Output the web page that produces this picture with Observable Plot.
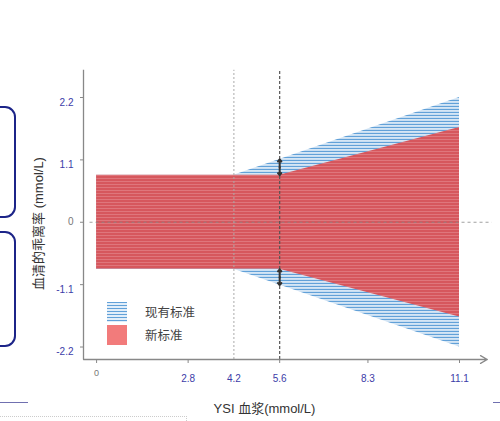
<!DOCTYPE html>
<html><head><meta charset="utf-8">
<script src="https://cdn.jsdelivr.net/npm/d3@7"></script>
<script src="https://cdn.jsdelivr.net/npm/@observablehq/plot@0.6"></script>
<style>
body{margin:0;background:#fff;font-family:"Liberation Sans","Noto Sans CJK SC",sans-serif;}
#wrap{position:relative;width:500px;height:421px;overflow:hidden;background:#fff}
#wrap svg{position:absolute;left:0;top:0}
.br{position:absolute;border:2.5px solid #1c2488;border-radius:11px;box-sizing:border-box}
.leg{position:absolute;left:107px;width:20px;height:20px}
.legt{position:absolute;left:145px;font-size:12.5px;color:#444;line-height:14px}
.deco{position:absolute}
</style></head><body><div id="wrap">
<div class="br" style="left:-20px;top:106px;width:36px;height:112px"></div>
<div class="br" style="left:-20px;top:231px;width:36px;height:116px"></div>
<div class="deco" style="left:0;top:402px;width:28px;height:1px;background:#7070b0"></div>
<div class="deco" style="left:493px;top:402px;width:7px;height:1px;background:#7070b0"></div>
<div class="deco" style="left:0;top:416px;width:186px;height:10px;border-top:1px dotted #ccc;border-right:1px dotted #ccc"></div>
</div>
<script>
// Data
const existingX = [0, 4.2, 11.1];
const existingHalf = [0.83, 0.83, 2.2];
const newX = [0, 5.6, 11.1];
const newHalf = [0.83, 0.83, 1.67];
const xTicks = [0, 2.8, 4.2, 5.6, 8.3, 11.1];
const xTickMarks = [0, 2.8, 5.6, 8.3, 11.1];
const yTicks = [-2.2, -1.1, 0, 1.1, 2.2];
const refLines = [4.2, 5.6];
const arrowAtX = 5.6;
const seriesNames = ["现有标准", "新标准"];
const xTitle = "YSI 血浆(mmol/L)";
const yTitle = "血清的乖离率 (mmol/L)";

const existing = existingX.map((x, i) => ({x, h: existingHalf[i]}));
const newer = newX.map((x, i) => ({x, h: newHalf[i]}));
function interp(xs, ys, x) {
  for (let i = 0; i < xs.length - 1; i++) {
    if (x >= xs[i] && x <= xs[i + 1]) return ys[i] + (ys[i + 1] - ys[i]) * (x - xs[i]) / (xs[i + 1] - xs[i]);
  }
  return ys[ys.length - 1];
}
const hNew = interp(newX, newHalf, arrowAtX);
const hOld = interp(existingX, existingHalf, arrowAtX);
const mid = (hNew + hOld) / 2;
const arrows = [
  {x: arrowAtX, a: mid, b: hOld}, {x: arrowAtX, a: mid, b: hNew},
  {x: arrowAtX, a: -mid, b: -hOld}, {x: arrowAtX, a: -mid, b: -hNew}
];

const xMin = -0.4, xMax = 11.1, yMin = -2.42, yMax = 2.2;
const blue = "#3c3ca8", gray = "#888";
const font = "Liberation Sans, Noto Sans CJK SC, sans-serif";

const plot = Plot.plot({
  width: 500, height: 421,
  marginLeft: 83, marginRight: 41, marginTop: 97, marginBottom: 62,
  x: {domain: [xMin, xMax]},
  y: {domain: [yMin, yMax]},
  style: {fontFamily: font, background: "transparent", overflow: "visible"},
  marks: [
    Plot.areaY(existing, {x: "x", y1: d => -d.h, y2: d => d.h, fill: "url(#blueHatch)"}),
    Plot.areaY(newer, {x: "x", y1: d => -d.h, y2: d => d.h, fill: "url(#redHatch)"}),
    Plot.ruleY([0], {x1: () => -0.2, x2: () => 12.1, stroke: "#888", strokeOpacity: 0.8, strokeDasharray: "3,3"}),
    Plot.ruleX([refLines[0]], {y1: () => yMin, y2: () => 2.68, stroke: "#aaa", strokeDasharray: "2,2"}),
    Plot.ruleX([refLines[1]], {y1: () => yMin, y2: () => 2.68, stroke: "#555", strokeDasharray: "3,2", strokeWidth: 1.2}),
    Plot.ruleX([xMin], {y1: () => yMin, y2: () => 2.68, stroke: gray, strokeWidth: 1.3}),
    Plot.arrow([0], {x1: () => xMin, x2: () => 11.95, y1: () => yMin, y2: () => yMin, stroke: gray, strokeWidth: 1.3, headLength: 9}),
    Plot.arrow(arrows, {x1: "x", x2: "x", y1: "a", y2: "b", stroke: "#333", strokeWidth: 2, headLength: 6, headAngle: 80}),
    Plot.axisY(yTicks, {anchor: "left", tickSize: 3, tickFormat: () => "", stroke: gray, label: null}),
    Plot.axisX(xTickMarks, {anchor: "bottom", tickSize: 4, tickFormat: () => "", stroke: gray, label: null}),
    Plot.text(yTicks.filter(d => d !== 0), {x: () => xMin, y: d => d, dx: -10, dy: 5, textAnchor: "end", fill: blue, fontSize: 10}),
    Plot.text([0], {x: () => xMin, y: d => d, dx: -10, dy: 0, textAnchor: "end", fill: "#777", fontSize: 10}),
    Plot.text(xTicks.filter(d => d !== 0), {x: d => d, y: () => yMin, dy: 19, fill: blue, fontSize: 10}),
    Plot.text([0], {x: d => d, y: () => yMin, dy: 14, fill: "#777", fontSize: 9}),
    Plot.text([xTitle], {frameAnchor: "bottom", textAnchor: "middle", dx: -7, dy: 53, fontSize: 13, fill: "#333"}),
    Plot.text([yTitle], {frameAnchor: "left", textAnchor: "middle", dx: -45, dy: -5, rotate: -90, fontSize: 13, fill: "#333"})
  ]
});

const svg = d3.select(plot);
const defs = svg.insert("defs", ":first-child");
const pb = defs.append("pattern").attr("id", "blueHatch").attr("patternUnits", "userSpaceOnUse").attr("width", 8).attr("height", 3);
pb.append("rect").attr("width", 8).attr("height", 3).attr("fill", "#e2eef9");
pb.append("rect").attr("y", 0.8).attr("width", 8).attr("height", 1.3).attr("fill", "#62a1d8");
const pr = defs.append("pattern").attr("id", "redHatch").attr("patternUnits", "userSpaceOnUse").attr("width", 8).attr("height", 3);
pr.append("rect").attr("width", 8).attr("height", 3).attr("fill", "#d6575d");
pr.append("rect").attr("y", 1).attr("width", 8).attr("height", 0.7).attr("fill", "#e3848a");

const wrap = document.getElementById("wrap");
wrap.appendChild(plot);

// legend
const legItems = [
  {name: seriesNames[0], top: 302, bg: "repeating-linear-gradient(to bottom,#62a1d8 0 1.3px,#e2eef9 1.3px 3px)"},
  {name: seriesNames[1], top: 325, bg: "#f27b7b"}
];
for (const it of legItems) {
  const p = document.createElement("div");
  p.className = "leg"; p.style.top = it.top + "px"; p.style.background = it.bg;
  wrap.appendChild(p);
  const t = document.createElement("div");
  t.className = "legt"; t.style.top = (it.top + 4) + "px"; t.textContent = it.name;
  wrap.appendChild(t);
}
</script>
</body></html>
